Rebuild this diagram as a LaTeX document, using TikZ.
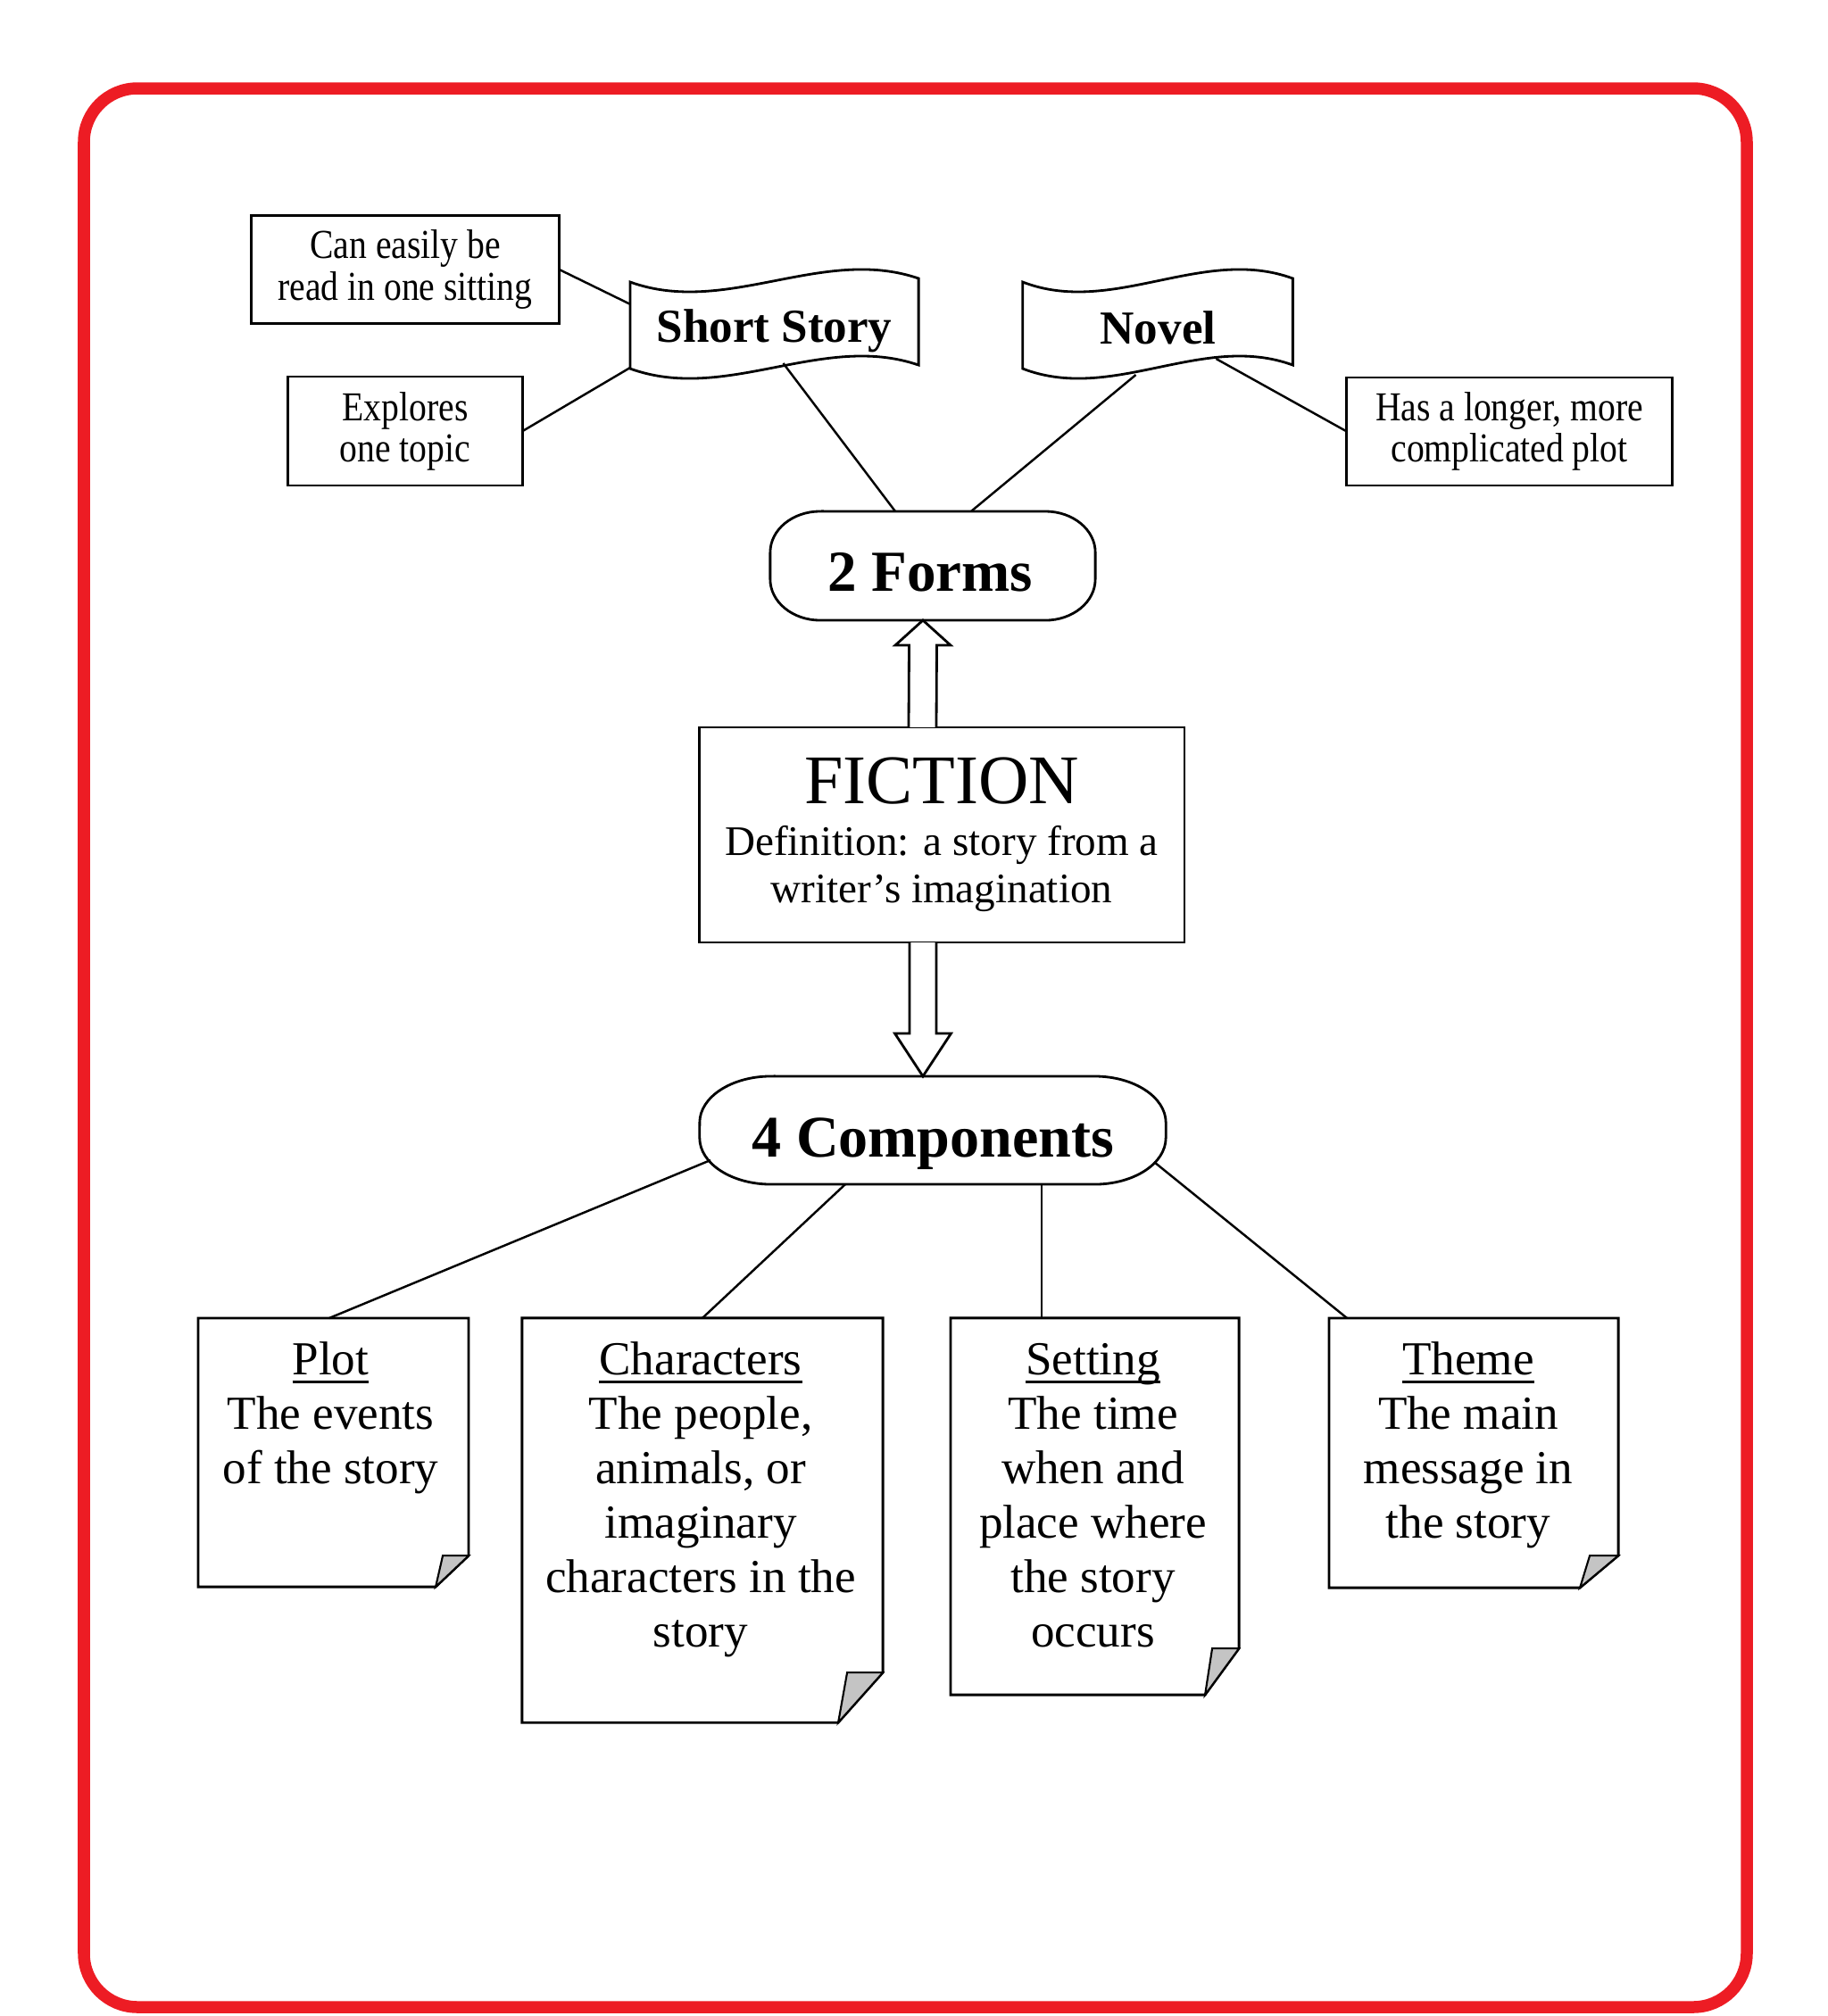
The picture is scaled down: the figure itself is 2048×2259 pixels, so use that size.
\documentclass[tikz,border=0pt]{standalone}
\usepackage{fontspec}
\setmainfont{Liberation Serif}
\newfontfamily\condfont{Liberation Serif}[FakeStretch=0.86]
\usetikzlibrary{calc}
\definecolor{redframe}{HTML}{ED1C24}
\definecolor{foldgray}{HTML}{C4C4C4}
\newsavebox\ulbox
\newcommand\ulx[1]{\sbox\ulbox{#1}\rlap{\rule[-2.6pt]{\wd\ulbox}{0.8pt}}\usebox\ulbox}
\newcommand\strutx{\rule{0pt}{0.4cm}}
% wavy banner drawn around a rectangle node
\newcommand\drawwave[1]{%
  \draw[ln] ($(#1.north west)+(0,1)$)
    .. controls ($(#1.north west)!0.3333!(#1.north east)+(0,40)$) and ($(#1.north west)!0.6667!(#1.north east)+(0,-40)$) ..
    ($(#1.north east)+(0,-3)$) -- ($(#1.south east)+(0,-3)$)
    .. controls ($(#1.south west)!0.6667!(#1.south east)+(0,-40)$) and ($(#1.south west)!0.3333!(#1.south east)+(0,40)$) ..
    ($(#1.south west)+(0,1)$) -- cycle;}
% page with folded corner: name, fold width, fold height, inner offset
\newcommand\drawdoc[4]{%
  \draw[ln] (#1.north west) -- (#1.north east) -- ($(#1.south east)+(0,-#3)$)
    -- ($(#1.south east)+(-#2,0)$) -- (#1.south west) -- cycle;
  \draw[line width=0.6pt, fill=foldgray] ($(#1.south east)+(0,-#3)$) -- ($(#1.south east)+(-#4,-#3)$)
    -- ($(#1.south east)+(-#2,0)$) -- cycle;}
\begin{document}
\begin{tikzpicture}[x=0.01cm,y=-0.01cm,
  ln/.style={line width=0.8pt, line join=miter},
  conn/.style={line width=0.7pt},
  slot/.style={inner sep=0pt, outer sep=0pt},
  boxed/.style={slot, draw, line width=0.8pt, align=center,
    font=\condfont\fontsize{13.1pt}{13.1pt}\selectfont},
  bannertxt/.style={inner sep=0pt, anchor=base, font=\bfseries\fontsize{15.1pt}{15.1pt}\selectfont},
  pilltxt/.style={inner sep=0pt, anchor=base},
  doctxt/.style={inner sep=0pt, anchor=north, align=center,
    font=\fontsize{15.1pt}{17.36pt}\selectfont}]
\fill[white] (0,0) rectangle (2048,2259);
\useasboundingbox (0,0) rectangle (2048,2259);
\draw[redframe, line width=3.84pt, rounded corners=0.6cm] (94,99) rectangle (1957,2249);

% top small boxes
\node[boxed, minimum width=3.45cm, minimum height=1.21cm] (ca) at (454,302) {Can easily be\\read in one sitting};
\node[boxed, minimum width=2.63cm, minimum height=1.22cm] (eo) at (454,483) {Explores\\one topic};
\node[boxed, minimum width=3.64cm, minimum height=1.21cm] (hl) at (1691,483.5) {Has a longer, more\\complicated plot};

% banners
\node[slot, minimum width=3.23cm, minimum height=0.97cm] (ss) at (867.5,363.5) {};
\drawwave{ss}
\node[bannertxt] (sst) at (867.5,383) {Short Story};
\node[slot, minimum width=3.025cm, minimum height=0.97cm] (nv) at (1297,363.5) {};
\drawwave{nv}
\node[bannertxt] (nvt) at (1297.5,385) {Novel};

% 2 Forms pill
\node[slot, minimum width=3.64cm, minimum height=1.22cm] (tf) at (1045,634) {};
\draw[ln] ($(tf.north west)+(56,0)$) -- ($(tf.north east)+(-56,0)$)
  arc[start angle=90,end angle=0,x radius=0.56cm,y radius=0.46cm]
  -- ($(tf.south east)+(0,-46)$)
  arc[start angle=0,end angle=-90,x radius=0.56cm,y radius=0.46cm]
  -- ($(tf.south west)+(56,0)$)
  arc[start angle=270,end angle=180,x radius=0.56cm,y radius=0.46cm]
  -- ($(tf.north west)+(0,46)$)
  arc[start angle=180,end angle=90,x radius=0.56cm,y radius=0.46cm] -- cycle;
\node[pilltxt, font=\bfseries\fontsize{18.5pt}{18.5pt}\selectfont] (tft) at (1042.5,662) {2 Forms};

% FICTION box
\node[slot, draw, line width=0.8pt, minimum width=5.435cm, minimum height=2.41cm, align=center,
  font=\fontsize{13.4pt}{15.1pt}\selectfont] (fic) at (1055,935.5)
  {{\fontsize{22.2pt}{22.2pt}\selectfont FICTION}\\[1.4pt]Definition: a story from a\\writer’s imagination};

% 4 Components pill
\node[slot, minimum width=5.22cm, minimum height=1.21cm] (fc) at (1045,1266.5) {};
\draw[ln] ($(fc.north west)+(80,0)$) -- ($(fc.north east)+(-80,0)$)
  arc[start angle=90,end angle=0,x radius=0.8cm,y radius=0.52cm]
  -- ($(fc.south east)+(0,-52)$)
  arc[start angle=0,end angle=-90,x radius=0.8cm,y radius=0.52cm]
  -- ($(fc.south west)+(80,0)$)
  arc[start angle=270,end angle=180,x radius=0.8cm,y radius=0.52cm]
  -- ($(fc.north west)+(0,52)$)
  arc[start angle=180,end angle=90,x radius=0.8cm,y radius=0.52cm] -- cycle;
\node[pilltxt, font=\bfseries\fontsize{18.8pt}{18.8pt}\selectfont] (fct) at (1045.5,1296) {4 Components};

% hollow arrows
\coordinate (ua) at ($(fic.north)+(-21.5,0)$);
\coordinate (ut) at ($(tf.south)+(-11,0)$);
\draw[ln, fill=white] ($(ua)+(-15.5,0)$) -- ($(ut)+(-15.5,28)$) -- ($(ut)+(-31,28)$) -- (ut)
  -- ($(ut)+(31,28)$) -- ($(ut)+(15.5,28)$) -- ($(ua)+(15.5,0)$);
\coordinate (da) at ($(fic.south)+(-21,0)$);
\coordinate (dt) at ($(fc.north)+(-11,0)$);
\draw[ln, fill=white] ($(da)+(-15,0)$) -- ($(dt)+(-15,-48)$) -- ($(dt)+(-31.5,-48)$) -- (dt)
  -- ($(dt)+(31.5,-48)$) -- ($(dt)+(15,-48)$) -- ($(da)+(15,0)$);

% component pages
\node[slot, minimum width=3.03cm, minimum height=3.01cm] (pl) at (373.5,1627.5) {};
\drawdoc{pl}{37}{35}{29}
\node[doctxt] (plt) at ($(pl.north)+(-3,23)$) {\strutx\ulx{Plot}\\The events\\of the story};

\node[slot, minimum width=4.04cm, minimum height=4.53cm] (ch) at (787,1703.5) {};
\drawdoc{ch}{50}{56}{40}
\node[doctxt] (cht) at ($(ch.north)+(-2,23)$) {\strutx\ulx{Characters}\\The people,\\animals, or\\imaginary\\characters in the\\story};

\node[slot, minimum width=3.23cm, minimum height=4.22cm] (st) at (1226.5,1688) {};
\drawdoc{st}{38}{52}{30}
\node[doctxt] (stt) at ($(st.north)+(-2,23)$) {\strutx\ulx{Setting}\\The time\\when and\\place where\\the story\\occurs};

\node[slot, minimum width=3.24cm, minimum height=3.02cm] (th) at (1651,1628) {};
\drawdoc{th}{43}{36}{32}
\node[doctxt] (tht) at ($(th.north)+(-6,23)$) {\strutx\ulx{Theme}\\The main\\message in\\the story};

% connectors
\draw[conn] (ca.east) -- (ss.172);
\draw[conn] (eo.east) -- (ss.south west);
\draw[conn] ($(ss.south)+(10,-5)$) -- ($(tf.north)+(-42,0)$);
\draw[conn] ($(nv.south)+(-24.5,8)$) -- ($(tf.north)+(43,0)$);
\draw[conn] ($(nv.south)+(65.5,-10)$) -- (hl.west);
\draw[conn] ($(fc.center)+(-249,33.5)$) -- ($(pl.north)+(-4.5,0)$);
\draw[conn] ($(fc.south)+(-98,0)$) -- (ch.north);
\draw[conn] ($(fc.south)+(122,0)$) -- ($(st.north)+(-59.5,0)$);
\draw[conn] ($(fc.center)+(248,35.5)$) -- ($(th.north)+(-142,0)$);
\end{tikzpicture}
\end{document}
